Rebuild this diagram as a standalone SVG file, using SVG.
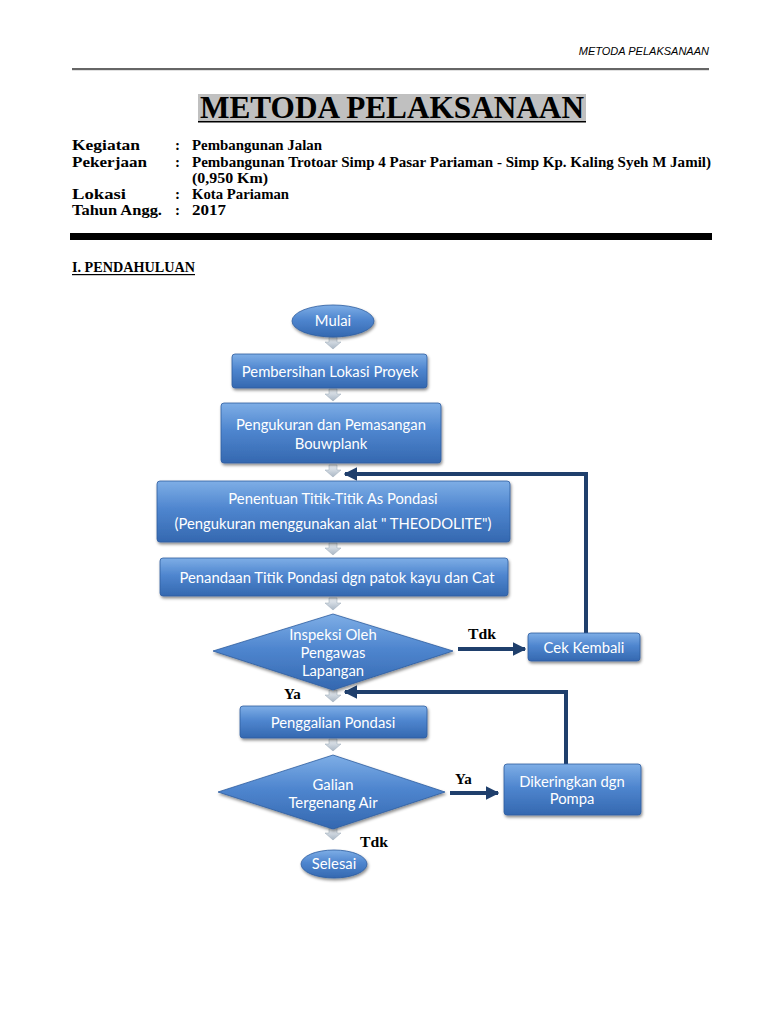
<svg xmlns="http://www.w3.org/2000/svg" width="768" height="1024" viewBox="0 0 768 1024">
<defs>
<linearGradient id="bg" x1="0" y1="0" x2="0" y2="1">
<stop offset="0" stop-color="#7eaee6"/>
<stop offset="0.45" stop-color="#4f86cf"/>
<stop offset="1" stop-color="#3468b0"/>
</linearGradient>
<linearGradient id="ag" x1="0" y1="0" x2="0" y2="1">
<stop offset="0" stop-color="#eef2f6"/>
<stop offset="1" stop-color="#a9b6c4"/>
</linearGradient>
<filter id="sh" x="-10%" y="-20%" width="120%" height="150%">
<feDropShadow dx="1" dy="2" stdDeviation="1.5" flood-color="#000" flood-opacity="0.45"/>
</filter>
<marker id="ah" viewBox="0 0 10 10" refX="9" refY="5" markerWidth="3.4" markerHeight="3.4" orient="auto" markerUnits="strokeWidth">
<path d="M0,0 L10,5 L0,10 z" fill="#1f3f6c"/>
</marker>
<path id="dn" d="M-4,0 h8 v5 h4 l-8,7 l-8,-7 h4 z"/>
</defs>
<style>
.n{fill:url(#bg);stroke:#2d5d9f;stroke-width:0.8;filter:url(#sh)}
.t{font-family:Lato,"Open Sans","Liberation Sans",sans-serif;font-size:14.8px;fill:#fff;text-anchor:middle}
.ca{fill:none;stroke:#1f3f6c;stroke-width:4;marker-end:url(#ah)}
.lb{font-family:"Liberation Serif",serif;font-weight:bold;font-size:15px;fill:#000}
.i{font-family:"Liberation Serif","DejaVu Serif",serif;font-weight:bold;font-size:15px;fill:#000}
.da{fill:url(#ag);stroke:#9aa8b6;stroke-width:0.5}
</style>
<rect width="768" height="1024" fill="#fff"/>
<text x="709" y="55" font-family="Liberation Sans,sans-serif" font-style="italic" font-size="11" text-anchor="end" fill="#000">METODA PELAKSANAAN</text>
<rect x="72" y="68" width="637" height="2.2" fill="#666"/>
<rect x="198" y="94" width="388" height="28" fill="#c0c0c0"/>
<text x="392" y="118" font-family="Liberation Serif,serif" font-weight="bold" font-size="31" text-anchor="middle" fill="#000" textLength="384" lengthAdjust="spacingAndGlyphs">METODA  PELAKSANAAN</text>
<rect x="198" y="121" width="388" height="1.5" fill="#000"/>
<g class="i">
<text x="72" y="150" textLength="68" lengthAdjust="spacingAndGlyphs">Kegiatan</text><text x="175" y="150">:</text><text x="192" y="150" textLength="130" lengthAdjust="spacingAndGlyphs">Pembangunan Jalan</text>
<text x="72" y="167" textLength="75" lengthAdjust="spacingAndGlyphs">Pekerjaan</text><text x="175" y="167">:</text><text x="192" y="167" textLength="519" lengthAdjust="spacingAndGlyphs">Pembangunan Trotoar Simp 4 Pasar Pariaman - Simp Kp. Kaling Syeh M Jamil)</text>
<text x="192" y="183" textLength="76" lengthAdjust="spacingAndGlyphs">(0,950 Km)</text>
<text x="72" y="199" textLength="54" lengthAdjust="spacingAndGlyphs">Lokasi</text><text x="175" y="199">:</text><text x="192" y="199" textLength="97" lengthAdjust="spacingAndGlyphs">Kota Pariaman</text>
<text x="72" y="215" textLength="90" lengthAdjust="spacingAndGlyphs">Tahun Angg.</text><text x="175" y="215">:</text><text x="192" y="215" textLength="34" lengthAdjust="spacingAndGlyphs">2017</text>
</g>
<rect x="70" y="233" width="642" height="7" fill="#000"/>
<text x="72" y="272" class="i" textLength="123" lengthAdjust="spacingAndGlyphs">I. PENDAHULUAN</text>
<rect x="72" y="274" width="123" height="1.2" fill="#000"/>

<g id="connectors">
<use href="#dn" x="333" y="337" class="da"/>
<use href="#dn" x="333" y="389" class="da"/>
<use href="#dn" x="333" y="465" class="da"/>
<use href="#dn" x="333" y="543" class="da"/>
<use href="#dn" x="333" y="598" class="da"/>
<use href="#dn" x="333" y="690" class="da"/>
<use href="#dn" x="333" y="739" class="da"/>
<use href="#dn" x="333" y="828" class="da"/>
<polyline class="ca" points="586,633 586,474 345,474"/>
<line class="ca" x1="458" y1="649" x2="525" y2="649"/>
<polyline class="ca" points="566,764 566,692 345,692"/>
<line class="ca" x1="450" y1="793" x2="498" y2="793"/>
<text x="468" y="639" class="lb" textLength="28" lengthAdjust="spacingAndGlyphs">Tdk</text>
<text x="284" y="699" class="lb">Ya</text>
<text x="455" y="784" class="lb">Ya</text>
<text x="360" y="847" class="lb" textLength="28" lengthAdjust="spacingAndGlyphs">Tdk</text>
</g>

<g id="mulai"><ellipse class="n" cx="333" cy="321" rx="41" ry="16"/><text class="t" x="333" y="326">Mulai</text></g>
<g id="pembersihan"><rect class="n" x="232" y="354" width="195" height="34" rx="3"/><text class="t" x="330" y="377">Pembersihan Lokasi Proyek</text></g>
<g id="pengukuran"><rect class="n" x="221" y="403" width="220" height="60" rx="3"/><text class="t" x="331" y="430">Pengukuran dan Pemasangan</text><text class="t" x="331" y="449">Bouwplank</text></g>
<g id="penentuan"><rect class="n" x="157" y="481" width="353" height="61" rx="3"/><text class="t" x="333" y="504">Penentuan Titik-Titik As Pondasi</text><text class="t" x="333" y="529">(Pengukuran menggunakan alat " THEODOLITE")</text></g>
<g id="penandaan"><rect class="n" x="160" y="558" width="348" height="38" rx="3"/><text class="t" x="337" y="583">Penandaan Titik Pondasi dgn patok kayu dan Cat</text></g>
<g id="inspeksi"><polygon class="n" points="333,614 453,651 333,690 213,651"/><text class="t" x="333" y="640">Inspeksi Oleh</text><text class="t" x="333" y="658">Pengawas</text><text class="t" x="333" y="676">Lapangan</text></g>
<g id="cek"><rect class="n" x="528" y="633" width="112" height="28" rx="3"/><text class="t" x="584" y="653">Cek Kembali</text></g>
<g id="penggalian"><rect class="n" x="240" y="706" width="187" height="32" rx="3"/><text class="t" x="333" y="728">Penggalian Pondasi</text></g>
<g id="galian"><polygon class="n" points="333,755 445,792 333,829 218,792"/><text class="t" x="333" y="790">Galian</text><text class="t" x="333" y="808">Tergenang Air</text></g>
<g id="dikeringkan"><rect class="n" x="504" y="764" width="137" height="51" rx="3"/><text class="t" x="572" y="787">Dikeringkan dgn</text><text class="t" x="572" y="804">Pompa</text></g>
<g id="selesai"><ellipse class="n" cx="334" cy="864" rx="33" ry="14"/><text class="t" x="334" y="869">Selesai</text></g>
</svg>
